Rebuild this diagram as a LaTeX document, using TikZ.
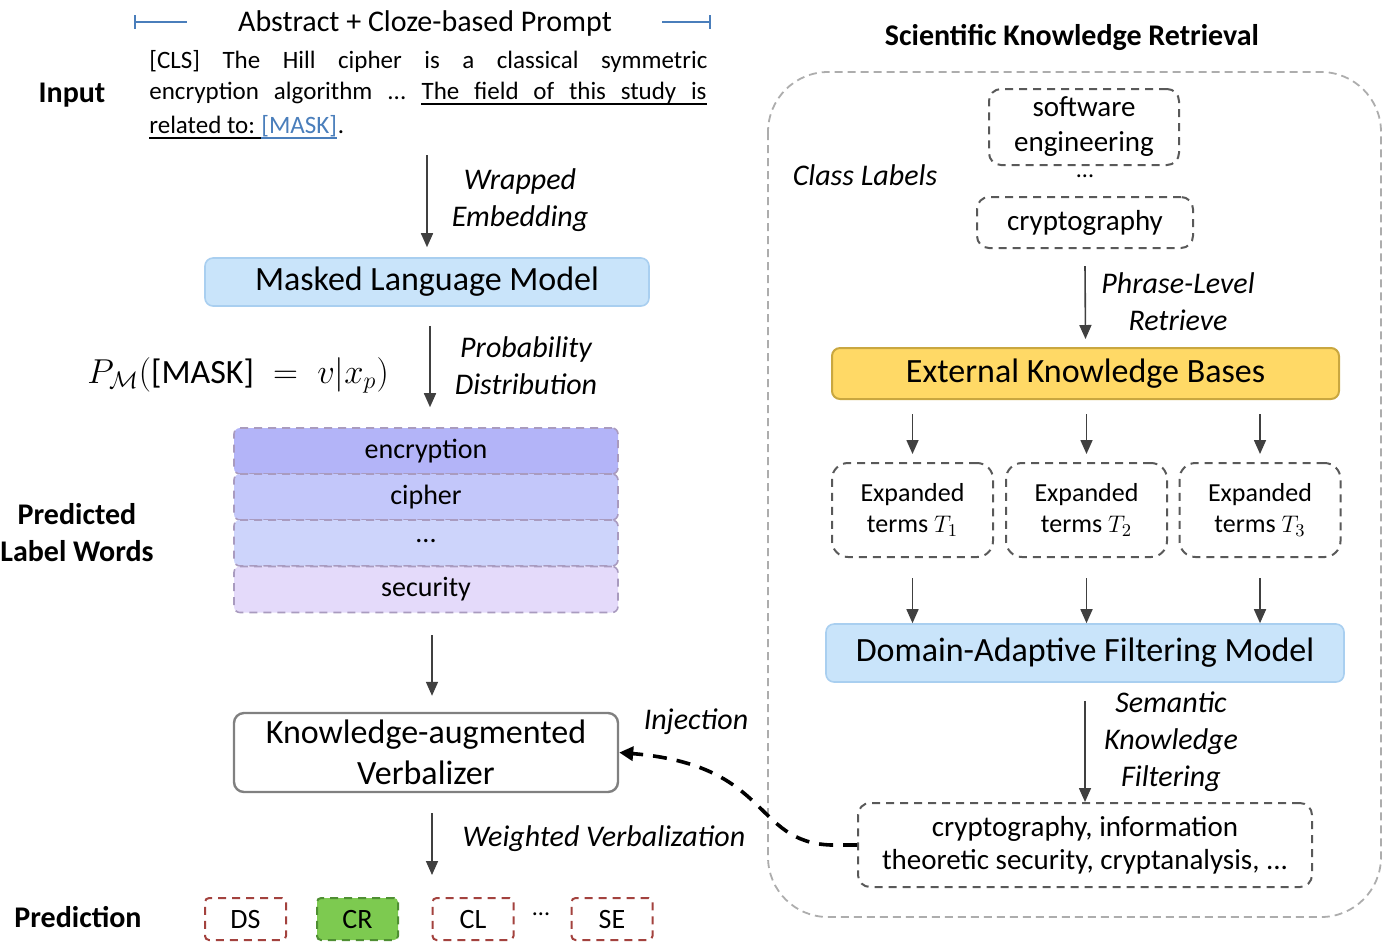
\documentclass[tikz,border=0pt]{standalone}
\usepackage{fontspec}
\setmainfont{Carlito}
\usepackage{amsmath}
\usetikzlibrary{arrows.meta}

\definecolor{arrowgray}{HTML}{404040}
\definecolor{boxgray}{HTML}{595959}
\definecolor{modelblue}{HTML}{C9E4FA}
\definecolor{modelline}{HTML}{A9CFF0}
\definecolor{kbyellow}{HTML}{FFD966}
\definecolor{kbline}{HTML}{C9A740}
\definecolor{promptblue}{HTML}{4A7EBB}
\definecolor{wordline}{HTML}{A99BBF}
\definecolor{wordA}{HTML}{B3B4F8}
\definecolor{wordB}{HTML}{C3C7FA}
\definecolor{wordC}{HTML}{CDD4FB}
\definecolor{wordD}{HTML}{E4DAFA}
\definecolor{predred}{HTML}{A3423E}
\definecolor{predgreen}{HTML}{7DCA50}
\definecolor{predgreenline}{HTML}{4F8F33}
\definecolor{regiongray}{HTML}{ADADAD}

\begin{document}
\begin{tikzpicture}[x=0.5pt, y=-0.5pt,
    arr/.style = {draw=arrowgray, line width=0.8pt, -{Triangle[length=7pt, width=6pt]}},
    inject/.style = {draw=black, line width=1.8pt, dash pattern=on 7pt off 5pt, -{Triangle[length=7pt, width=7pt]}},
    heading/.style = {font=\fontsize{15}{18.5}\selectfont\bfseries, align=center},
    note/.style = {font=\fontsize{15}{18.5}\selectfont\itshape, align=center},
    para/.style = {font=\fontsize{12.5}{15}\selectfont, inner sep=0pt},
    uline/.style = {line width=1.2pt},
    bracket/.style = {draw=promptblue, line width=1pt},
    model/.style = {draw=modelline, fill=modelblue, line width=0.8pt, rounded corners=4pt, font=\fontsize{17}{20}\selectfont, text depth=3pt},
    dashbox/.style = {draw=boxgray, line width=1pt, dash pattern=on 4pt off 3pt, rounded corners=6pt, align=center},
    word/.style = {draw=wordline, line width=0.8pt, dash pattern=on 4pt off 3pt, rounded corners=3pt, minimum width=192pt, minimum height=23pt, text depth=2.5pt, font=\fontsize{14}{16}\selectfont},
    pred/.style = {draw=predred, line width=1pt, dash pattern=on 4pt off 3pt, rounded corners=2pt, minimum width=40.5pt, minimum height=21pt, font=\fontsize{14}{16}\selectfont},
    region/.style = {draw=regiongray, line width=0.9pt, dash pattern=on 4pt off 2.5pt, rounded corners=30pt}
]
    \useasboundingbox (0,0) rectangle (1391,950);

    % Input
    \node[heading] (input) at (72,95) {Input};
    \node[font=\fontsize{15}{18}\selectfont] (prompttitle) at (425,23) {Abstract + Cloze-based Prompt};
    \draw[bracket] (135,15) -- (135,29);
    \draw[bracket] (135,22) -- (187,22);
    \draw[bracket] (662,22) -- (710,22);
    \draw[bracket] (710,15) -- (710,29);

    % Prompt text
    \node[para, anchor=base west] (line1) at (149,68) {\makebox[279pt][s]{[CLS] The Hill cipher is a classical symmetric}};
    \node[para, anchor=base west] (line2) at (149,99) {\makebox[128.5pt][s]{encryption algorithm ...}};
    \node[para, anchor=base east] (field) at (707,99) {\makebox[142.5pt][s]{The field of this study is}};
    \node[para, anchor=base west] (related) at (149,133) {related to:};
    \node[para, anchor=base west, text=promptblue] (mask) at ([xshift=2.8pt]related.base east) {[MASK]};
    \node[para, anchor=base west] (dot) at (mask.base east) {.};
    \draw[uline] ([yshift=-2.5pt]field.base west) -- ([yshift=-2.5pt]field.base east);
    \draw[uline] ([yshift=-2.5pt]related.base west) -- ([yshift=-2.5pt]mask.base west);
    \draw[uline, promptblue] ([yshift=-2.5pt]mask.base west) -- ([yshift=-2.5pt]mask.base east);

    % Masked language model
    \coordinate (promptend) at (427,155);
    \node[model, minimum width=222pt, minimum height=24pt] (mlm) at (427,282) {Masked Language Model};
    \draw[arr] (promptend) -- ([yshift=5pt]mlm.north);
    \node[note] (embed) at (520,200) {Wrapped\\Embedding};

    % Label words
    \node[font=\fontsize{17}{20}\selectfont] (prob) at (238,375) {$P_{\mathcal{M}}(\text{[MASK]}\;=\;v|x_p)$};
    \node[word, fill=wordA] (w1) at (426,451) {encryption};
    \node[word, fill=wordB] (w2) at (426,497) {cipher};
    \node[word, fill=wordC] (w3) at (426,543) {...};
    \node[word, fill=wordD] (w4) at (426,589.5) {security};
    \draw[arr] ([xshift=1.5pt, yshift=-9.5pt]mlm.south) -- ([xshift=2pt, yshift=10pt]w1.north);
    \node[note] (distrib) at (526,366) {Probability\\Distribution};
    \node[heading] (predlabel) at (77,533) {Predicted\\Label Words};

    % Verbalizer
    \node[draw=gray, line width=1.2pt, rounded corners=5pt, minimum width=192pt, minimum height=39.5pt,
          align=center, font=\fontsize{17}{20.5}\selectfont] (kav) at (426,752.5) {Knowledge-augmented\\Verbalizer};
    \draw[arr] ([xshift=3pt, yshift=-11pt]w4.south) -- ([xshift=3pt, yshift=8pt]kav.north);

    % Prediction
    \node[heading] (predict) at (78,917) {Prediction};
    \node[pred] (ds) at (245.5,919) {DS};
    \node[pred, fill=predgreen, draw=predgreenline] (cr) at (357.5,919) {CR};
    \node[pred] (cl) at (473,919) {CL};
    \node[font=\fontsize{12}{14}\selectfont] (more) at (541,914) {...};
    \node[pred] (se) at (612,919) {SE};
    \coordinate (predtop) at (432,875);
    \draw[arr] ([xshift=3pt, yshift=-10pt]kav.south) -- (predtop);
    \node[note] (weighted) at (604,839) {Weighted Verbalization};

    % Scientific knowledge retrieval
    \node[heading] (skr) at (1072,37) {Scientific Knowledge Retrieval};
    \draw[region] (768,72) rectangle (1381,917);

    % Class labels
    \node[note] (classlab) at (865,175) {Class Labels};
    \node[dashbox, minimum width=95pt, minimum height=38pt, font=\fontsize{14.5}{17.5}\selectfont] (soft) at (1084,127) {software\\engineering};
    \node[font=\fontsize{12}{14}\selectfont, inner sep=0pt] (dots) at (1085,176) {...};
    \node[dashbox, minimum width=108pt, minimum height=25.5pt, font=\fontsize{14.5}{17.5}\selectfont] (crypto) at (1085,222.5) {cryptography};

    % External knowledge bases
    \node[draw=kbline, fill=kbyellow, line width=1pt, rounded corners=4pt, minimum width=253.5pt, minimum height=25.5pt,
          text depth=3pt, font=\fontsize{17}{20}\selectfont] (ekb) at (1085.5,373.5) {External Knowledge Bases};
    \draw[arr] ([yshift=-8.5pt]crypto.south) -- ([yshift=4pt]ekb.north);
    \node[note] (phrase) at (1178,302) {Phrase-Level\\Retrieve};

    % Expanded terms
    \node[dashbox, rounded corners=8pt, minimum width=80.5pt, minimum height=47pt, font=\fontsize{13}{15.5}\selectfont] (exp1) at (912.5,510) {Expanded\\terms $T_1$};
    \node[dashbox, rounded corners=8pt, minimum width=80.5pt, minimum height=47pt, font=\fontsize{13}{15.5}\selectfont] (exp2) at (1086.5,510) {Expanded\\terms $T_2$};
    \node[dashbox, rounded corners=8pt, minimum width=80.5pt, minimum height=47pt, font=\fontsize{13}{15.5}\selectfont] (exp3) at (1260,510) {Expanded\\terms $T_3$};
    \draw[arr] ([yshift=-7pt]ekb.south -| exp1) -- ([yshift=4pt]exp1.north);
    \draw[arr] ([yshift=-7pt]ekb.south -| exp2) -- ([yshift=4pt]exp2.north);
    \draw[arr] ([yshift=-7pt]ekb.south -| exp3) -- ([yshift=4pt]exp3.north);

    % Filtering model
    \node[model, minimum width=259pt, minimum height=29pt] (dafm) at (1085,653) {Domain-Adaptive Filtering Model};
    \draw[arr] ([yshift=-10pt]exp1.south) -- (exp1 |- dafm.north);
    \draw[arr] ([yshift=-10pt]exp2.south) -- (exp2 |- dafm.north);
    \draw[arr] ([yshift=-10pt]exp3.south) -- (exp3 |- dafm.north);

    % Filtered knowledge
    \node[dashbox, minimum width=227pt, minimum height=42pt, font=\fontsize{14.5}{16.5}\selectfont] (result) at (1085,845) {cryptography, information\\theoretic security, cryptanalysis, ...};
    \draw[arr] ([yshift=-9pt]dafm.south) -- (result.north);
    \node[note] (semantic) at (1171,742) {Semantic\\Knowledge\\Filtering};

    % Injection
    \draw[inject] (result.west) -- ++(-26,0) .. controls (752,842) and (772,765) .. (kav.east);
    \node[note] (injection) at (696,722) {Injection};

\end{tikzpicture}
\end{document}
